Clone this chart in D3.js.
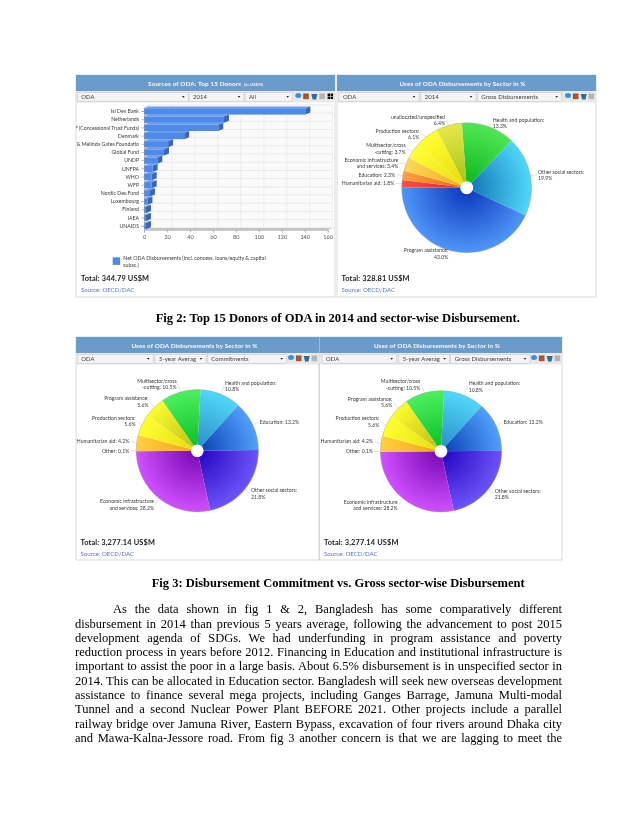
<!DOCTYPE html>
<html><head><meta charset="utf-8">
<script src="https://cdn.jsdelivr.net/npm/d3@7/dist/d3.min.js"></script>
<style>
html,body{margin:0;padding:0;background:#fff;overflow:hidden}
svg{display:block}
.ui{font-family:"Lato",sans-serif}
.doc{font-family:"Liberation Serif",serif;fill:#000}
</style></head><body>
<svg id="page" width="638" height="826"></svg>
<script>
// ---------- DATA ----------
const donors = ["Isl Dev Bank","Netherlands","AsDF (Concessional Trust Funds)","Denmark","Bill & Melinda Gates Foundatio","Global Fund","UNDP","UNFPA","WHO","WFP","Nordic Dev.Fund","Luxembourg","Finland","IAEA","UNAIDS"];
const donorValues = [140.5,69.7,64.7,35,21,17.4,11.6,7.5,6.7,6.7,5.2,3,1.7,1.7,1.7];
const xTicks = [0,20,40,60,80,100,120,140,160];
const legendLines = ["Net ODA Disbursements (incl. concess. loans/equity & capital","subsc.)"];

const sectors2014 = [["Health and population:","13.3%"],["Other social sectors:","19.9%"],["Program assistance:","43.0%"],["Humanitarian aid: 1.8%"],["Education: 2.3%"],["Economic infrastructure","and services: 3.4%"],["Multisector/cross","-cutting: 3.7%"],["Production sectors:","6.1%"],["unallocated/unspecified","6.4%"]];
const values2014 = [13.3,19.9,43.0,1.8,2.3,3.4,3.7,6.1,6.4];

const sectorsAvg = [["Health and population:","10.8%"],["Education: 13.2%"],["Other social sectors:","21.8%"],["Economic infrastructure","and services: 28.2%"],["Other: 0.1%"],["Humanitarian aid: 4.2%"],["Production sectors:","5.6%"],["Program assistance:","5.6%"],["Multisector/cross","-cutting: 10.5%"]];
const valuesCommit = [10.8,13.2,21.8,28.2,0.1,4.2,5.6,5.6,10.5];
const valuesGross = [10.8,13.2,21.8,28.2,0.1,4.2,5.6,5.6,10.5];

const captionA = "Fig 2: Top 15 Donors of ODA in 2014 and sector-wise Disbursement.";
const captionB = "Fig 3: Disbursement Commitment vs. Gross sector-wise Disbursement";
const paragraph = [
"As the data shown in fig 1 & 2, Bangladesh has some comparatively different",
"disbursement in 2014 than previous 5 years average, following the advancement to post 2015",
"development agenda of SDGs. We had underfunding in program assistance and poverty",
"reduction process in years before 2012. Financing in Education and institutional infrastructure is",
"important to assist the poor in a large basis. About 6.5% disbursement is in unspecified sector in",
"2014. This can be allocated in Education sector. Bangladesh will seek new overseas development",
"assistance to finance several mega projects, including Ganges Barrage, Jamuna Multi-modal",
"Tunnel and a second Nuclear Power Plant BEFORE 2021. Other projects include a parallel",
"railway bridge over Jamuna River, Eastern Bypass, excavation of four rivers around Dhaka city",
"and Mawa-Kalna-Jessore road. From fig 3 another concern is that we are lagging to meet the"];

// ---------- LAYOUT & STYLE (separate from data) ----------
const colors2014 = [["#0fb81f","#50e655"],["#1578b8","#50d8fa"],["#0f3cc0","#4f96f8"],["#e02424","#ff5040"],["#e86a14","#ffa040"],["#eeae1c","#ffd858"],["#ecdc10","#ffff38"],["#e8dc10","#ffff30"],["#a8c414","#e6e848"]];
const colorsAvg = [["#2a90c8","#50d8f8"],["#0c44b8","#52a0fc"],["#2808c4","#6c54f8"],["#7c0cb8","#d050ff"],["#e85020","#ff8040"],["#f4a414","#ffd040"],["#e4e010","#ffff30"],["#c0c018","#fcfc30"],["#0cc024","#4cf060"]];
const labels2014 = [[26,-67.7],[71.3,-16],[-18.4,63],[-72.4,-4.4],[-71.7,-13],[-68.4,-27.7],[-61,-42.4],[-47.4,-56.7],[-21.7,-71]];
const labelsAvg = [[27.7,-68],[62.5,-29],[53.7,39.7],[-43.3,50.7],[-68,0],[-68,-9.7],[-61.7,-32.7],[-48.7,-52.3],[-20.7,-70]];

const svg = d3.select("#page");
const defs = svg.append("defs");
const blur = defs.append("filter").attr("id","soft").attr("x","-2%").attr("y","-2%").attr("width","104%").attr("height","104%");
blur.append("feGaussianBlur").attr("stdDeviation",0.42);
const blurDoc = defs.append("filter").attr("id","softdoc").attr("x","-2%").attr("y","-5%").attr("width","104%").attr("height","110%");
blurDoc.append("feGaussianBlur").attr("stdDeviation",0.28);

const charts = svg.append("g").attr("filter","url(#soft)");
let clipId = 0;

function panel(x0,y0,x1,y1,title,menus,icons){
  const g = charts.append("g").attr("class","ui");
  g.append("rect").attr("x",x0).attr("y",y0).attr("width",x1-x0).attr("height",y1-y0).attr("fill","#fff").attr("stroke","#c9c9c9").attr("stroke-width",0.7);
  g.append("rect").attr("x",x0).attr("y",y0).attr("width",x1-x0).attr("height",16).attr("fill","#6a9ccb");
  g.append("rect").attr("x",x0).attr("y",y0+16).attr("width",x1-x0).attr("height",11.5).attr("fill","#e8e8e8");
  const titleText = g.append("text").attr("x",title.cx).attr("y",y0+10.6).attr("text-anchor","middle").attr("fill","#f4f8fc").attr("font-size",6.3).attr("font-weight",700).attr("letter-spacing",0.14);
  titleText.append("tspan").text(title.text);
  if(title.small) titleText.append("tspan").attr("font-size",4).attr("dx",3).text(title.small);
  menus.forEach(m=>{
    g.append("rect").attr("x",m.a).attr("y",y0+17.6).attr("width",m.b-m.a).attr("height",8.6).attr("fill","#f4f4f4").attr("stroke","#c2c2c2").attr("stroke-width",0.5);
    g.append("text").attr("x",m.a+4).attr("y",y0+24).attr("font-size",5.9).attr("fill","#3c3c3c").attr("letter-spacing",0.1).text(m.t);
    const ax=m.b-5;
    g.append("path").attr("d",`M${ax-1.3},${y0+21} h2.6 l-1.3,1.7z`).attr("fill","#222");
  });
  const ic = y0+21.5;
  g.append("ellipse").attr("cx",x1-(icons?36.7:28)).attr("cy",ic-1).attr("rx",3).attr("ry",2.5).attr("fill","#3c8ee0");
  const bx=x1-(icons?29:20.3);
  g.append("rect").attr("x",bx-2.8).attr("y",ic-3).attr("width",5.6).attr("height",5.6).attr("fill","#8a5a30");
  g.append("rect").attr("x",bx-1).attr("y",ic-1.5).attr("width",2.6).attr("height",4.1).attr("fill","#d04a30");
  const cx=x1-(icons?20.7:12.3);
  g.append("path").attr("d",`M${cx-3},${ic-2.4} L${cx+3},${ic-2.6} L${cx+1.8},${ic+3} L${cx-1.6},${ic+3}z`).attr("fill","#2b6f98");
  g.append("rect").attr("x",x1-(icons?15.7:7.4)).attr("y",ic-3).attr("width",5.5).attr("height",5.6).attr("fill","#b4b4b4");
  if(icons){
    [[0,0],[1,0],[0,1],[1,1]].forEach(([i,j])=>g.append("rect").attr("x",x1-7.4+i*3).attr("y",ic-3+j*3).attr("width",2.5).attr("height",2.5).attr("fill","#111"));
  }
  return g;
}
function footer(g,x,yTotal,total){
  g.append("text").attr("x",x).attr("y",yTotal).attr("font-size",7.4).attr("font-weight",700).attr("fill","#222").attr("letter-spacing",0.15).text(total);
  g.append("text").attr("x",x).attr("y",yTotal+11.4).attr("font-size",6.1).attr("fill","#5a74ac").text("Source: OECD/DAC");
}

function pie(g,cx,cy,r,hole,values,names,cols,layout,startDeg){
  const arcs = d3.pie().sort(null).startAngle(startDeg*Math.PI/180).endAngle((startDeg+360)*Math.PI/180)(values);
  const arc = d3.arc().innerRadius(0).outerRadius(r);
  const root = g.append("g").attr("transform",`translate(${cx},${cy})`);
  arcs.forEach((a,i)=>{
    const id="g"+(clipId++);
    const gr=defs.append("radialGradient").attr("id",id).attr("gradientUnits","userSpaceOnUse").attr("cx",0).attr("cy",0).attr("r",r);
    gr.append("stop").attr("offset",0.08).attr("stop-color",cols[i][0]);
    gr.append("stop").attr("offset",1).attr("stop-color",cols[i][1]);
    root.append("path").attr("d",arc(a)).attr("fill",`url(#${id})`);
  });
  root.append("circle").attr("r",r).attr("fill","none").attr("stroke","#9a9a9a").attr("stroke-width",0.4);
  root.append("circle").attr("r",hole).attr("fill","#fff");
  arcs.forEach((a,i)=>{
    const [lx,ly]=layout[i];
    const mid=(a.startAngle+a.endAngle)/2;
    const lines=names[i];
    const sx=Math.sin(mid)*r, sy=-Math.cos(mid)*r;
    const ey=ly+(lines.length>1?3:0);
    root.append("path").attr("d",`M${sx},${sy} L${lx+(lx>0?-1:1)},${ey}`).attr("stroke","#aaa").attr("stroke-width",0.35).attr("fill","none");
    lines.forEach((t,k)=>{
      root.append("text").attr("x",lx).attr("y",ly+k*6.4+1.8).attr("text-anchor",lx>0?"start":"end")
        .attr("font-size",5.15).attr("fill","#3a3a3a").text(t);
    });
  });
}

// ---------- PANEL 1: bars ----------
const p1 = panel(76,75,335,297,{text:"Sources of ODA: Top 15 Donors",small:"(in US$M)",cx:205.6},
  [{a:77.3,b:188.3,t:"ODA"},{a:189,b:244,t:"2014"},{a:245,b:292.7,t:"All"}],true);
const clip = defs.append("clipPath").attr("id","barclip");
clip.append("rect").attr("x",76).attr("y",75).attr("width",259).attr("height",222);
const x = d3.scaleLinear().domain([0,160]).range([144,327.7]);
const y = d3.scalePoint().domain(donors).range([111,225.7]);
const dx=5, dy=-2, bh=6.2;
const plot = p1.append("g");
const backTop=104.5, floorY=230;
plot.append("rect").attr("x",x(0)+dx).attr("y",backTop).attr("width",x(160)-x(0)).attr("height",floorY+dy-backTop).attr("fill","#fafafa");
donors.forEach(d=>{
  const yy=y(d)+y.step()/2+dy;
  plot.append("path").attr("d",`M${x(0)},${yy-dy} L${x(0)+dx},${yy} H${x(160)+dx}`).attr("stroke","#d8d8d8").attr("stroke-width",0.5).attr("fill","none");
});
plot.append("path").attr("d",`M${x(0)+dx},${y(donors[0])-y.step()/2+dy} H${x(160)+dx}`).attr("stroke","#d8d8d8").attr("stroke-width",0.5);
xTicks.forEach(t=>plot.append("line").attr("x1",x(t)+dx).attr("x2",x(t)+dx).attr("y1",backTop).attr("y2",floorY+dy).attr("stroke","#e2e2e2").attr("stroke-width",0.5));
plot.append("path").attr("d",`M${x(0)},${floorY} H${x(160)} L${x(160)+dx},${floorY+dy} H${x(0)+dx}z`).attr("fill","#c4c4c4");
plot.append("path").attr("d",`M${x(0)},${floorY} V${backTop+2} L${x(0)+dx},${backTop}  V${floorY+dy}z`).attr("fill","#e4e4e4");
const barG=plot.append("g");
donors.slice().reverse().forEach(d=>{
  const v=donorValues[donors.indexOf(d)], t=y(d)-bh/2+0.5, xv=x(v), x0=x(0);
  barG.append("path").attr("d",`M${x0},${t} L${x0+dx},${t+dy} H${xv+dx} L${xv},${t}z`).attr("fill","#6a9cec");
  barG.append("path").attr("d",`M${xv},${t} L${xv+dx},${t+dy} V${t+dy+bh} L${xv},${t+bh}z`).attr("fill","#3a66b8");
  barG.append("rect").attr("x",x0).attr("y",t).attr("width",xv-x0).attr("height",bh).attr("fill","#4f8ae8");
});
const axB=p1.append("g").attr("transform",`translate(0,${floorY})`).call(d3.axisBottom(x).tickValues(xTicks).tickSize(2.5).tickPadding(2.5));
axB.select(".domain").attr("stroke","#999").attr("stroke-width",0.5);
axB.selectAll("line").attr("stroke","#777").attr("stroke-width",0.5);
axB.selectAll("text").attr("font-size",5.6).attr("font-family","Lato").attr("fill","#555");
const axL=p1.append("g").attr("clip-path","url(#barclip)").append("g").attr("transform",`translate(${x(0)},0)`).call(d3.axisLeft(y).tickSize(2.5).tickPadding(2.5));
axL.select(".domain").attr("stroke","#999").attr("stroke-width",0.5);
axL.selectAll("line").attr("stroke","#777").attr("stroke-width",0.5);
axL.selectAll("text").attr("font-size",5.2).attr("font-family","Lato").attr("fill","#3a3a3a");
p1.append("rect").attr("x",112.7).attr("y",257.3).attr("width",7.4).attr("height",7.6).attr("fill","#4f8ae8");
legendLines.forEach((t,i)=>p1.append("text").attr("x",123.3).attr("y",260+i*6.5).attr("font-size",5.3).attr("fill","#3a3a3a").text(t));
footer(p1,81,281,"Total: 344.79 US$M");

// ---------- PANEL 2 ----------
const p2 = panel(337,75,596,297,{text:"Uses of ODA Disbursements by Sector in %",cx:462.5},
  [{a:339,b:419,t:"ODA"},{a:420.7,b:476,t:"2014"},{a:477.3,b:561.7,t:"Gross Disbursements"}],false);
pie(p2,466.7,187.7,65,6.5,values2014,sectors2014,colors2014,labels2014,-4.3);
footer(p2,341.5,281,"Total: 328.81 US$M");

// ---------- PANEL 3 ----------
const p3 = panel(76,337,319,560,{text:"Uses of ODA Disbursements by Sector in %",cx:194.5},
  [{a:77.3,b:153.3,t:"ODA"},{a:155,b:206,t:"5-year Averag"},{a:207.3,b:286.7,t:"Commitments"}],false);
pie(p3,197.3,450.7,61.2,6.3,valuesCommit,sectorsAvg,colorsAvg,labelsAvg,3);
footer(p3,80.5,545,"Total: 3,277.14 US$M");

// ---------- PANEL 4 ----------
const p4 = panel(319.5,337,562,560,{text:"Uses of ODA Disbursements by Sector in %",cx:437},
  [{a:322,b:396.7,t:"ODA"},{a:398.7,b:449.7,t:"5-year Averag"},{a:450.7,b:530,t:"Gross Disbursements"}],false);
pie(p4,441,451.3,60.7,6.3,valuesGross,sectorsAvg,colorsAvg,labelsAvg,3);
footer(p4,324,545,"Total: 3,277.14 US$M");

// ---------- DOCUMENT TEXT ----------
const doc = svg.append("g").attr("class","doc").attr("filter","url(#softdoc)");
doc.append("text").attr("x",155.7).attr("y",321.7).attr("font-size",12.55).attr("font-weight",700).text(captionA);
doc.append("text").attr("x",151.7).attr("y",586.7).attr("font-size",12.5).attr("font-weight",700).text(captionB);
paragraph.forEach((line,i)=>{
  const left = i===0?113:75, right=562;
  const t=doc.append("text").attr("x",left).attr("y",613.2+i*14.3).attr("font-size",12.5).text(line);
  const w=t.node().getComputedTextLength();
  const gaps=line.split(" ").length-1;
  t.attr("word-spacing",(right-left-w)/gaps);
});
</script>
</body></html>
